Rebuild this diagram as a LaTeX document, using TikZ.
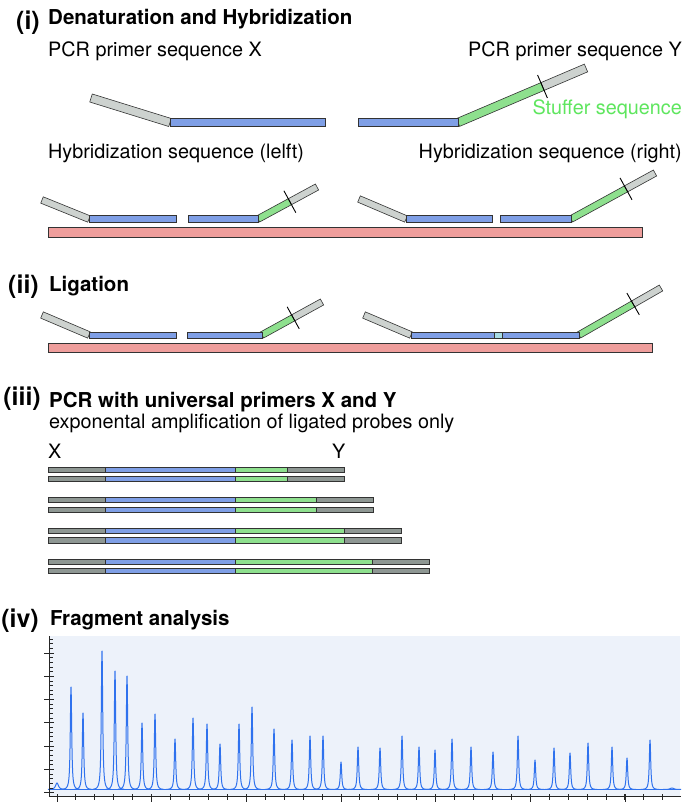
\documentclass[tikz,border=0pt]{standalone}
\usepackage{fontspec}
\setmainfont{TeX Gyre Heros}
\usetikzlibrary{calc}
\definecolor{greyF}{HTML}{CDD2CF}
\definecolor{greyD}{HTML}{8E9793}
\definecolor{blueF}{HTML}{7F9FE6}
\definecolor{greenF}{HTML}{8EE08E}
\definecolor{pinkF}{HTML}{EF9E9C}
\definecolor{cyanF}{HTML}{A8DDE6}
\definecolor{stufferG}{HTML}{5EE65E}
\definecolor{plotbg}{HTML}{EDF2FA}
\definecolor{traceB}{HTML}{2F72EE}
\definecolor{outl}{HTML}{333333}
\tikzset{
 seg/.style={draw=outl, line width=0.6pt},
 crossmark/.style={draw=black, line width=0.9pt},
 lbl/.style={anchor=base east, inner sep=0pt, font=\fontsize{25}{28}\selectfont\bfseries},
 ttl/.style={anchor=base west, inner sep=0pt, font=\fontsize{20.5}{24}\selectfont\bfseries},
 txt/.style={anchor=base west, inner sep=0pt, font=\fontsize{19.8}{23}\selectfont},
 txtr/.style={txt, anchor=base east},
 trace/.style={draw=traceB, line width=1pt, line join=round},
 axisline/.style={draw=black!85, line width=0.9pt},
}
\newcommand\armseg[4]{\filldraw[seg, fill=#4] ($#1!#3!90:#2$) -- ($#2!#3!-90:#1$) -- ($#2!#3!90:#1$) -- ($#1!#3!-90:#2$) -- cycle;}
\newcommand\hseg[5]{\filldraw[seg, fill=#5] (#1,{#3-#4}) rectangle (#2,{#3+#4});}
\newcommand\crossat[2]{\draw[crossmark] ($#1!12.5pt!90:#2$) -- ($#1!12.5pt!-90:#2$);}
\begin{document}
\begin{tikzpicture}[x=1pt,y=-1pt]
\useasboundingbox (0,0) rectangle (685,802);
\fill[white] (0,0) rectangle (685,802);

% ---------- texts
\node[lbl] (l1) at (40,30) {(i)};
\node[ttl] (t1) at (48,25) {Denaturation and Hybridization};
\node[txt] (px) at (48,57) {PCR primer sequence X};
\node[txtr] (py) at (682,57) {PCR primer sequence Y};
\node[txtr, text=stufferG] (st) at (682,115) {Stuffer sequence};
\node[txt] (hl) at (48,159) {Hybridization sequence (lelft)};
\node[txtr] (hr) at (682,159) {Hybridization sequence (right)};
\node[lbl] (l2) at (39,293) {(ii)};
\node[ttl] (t2) at (49,291) {Ligation};
\node[lbl] (l3) at (41,405) {(iii)};
\node[ttl] (t3) at (49,407) {PCR with universal primers X and Y};
\node[txt] (ex) at (49,428) {exponental amplification of ligated probes only};
\node[txt] (xl) at (48,458) {X};
\node[txt] (yl) at (332,458) {Y};
\node[lbl] (l4) at (39,627) {(iv)};
\node[ttl] (t4) at (50,625) {Fragment analysis};

% ---------- (i) free probes
\coordinate (a1) at (91,98); \coordinate (a1j) at (170,122.5);
\armseg{(a1)}{(a1j)}{4.2pt}{greyF}
\hseg{170}{325}{122.5}{4.2}{blueF}
\coordinate (b1j) at (458,122.5); \coordinate (b1e) at (586,68);
\coordinate (b1c) at ($(b1j)!0.66!(b1e)$);
\armseg{(b1c)}{(b1e)}{4.2pt}{greyF}
\armseg{(b1j)}{(b1c)}{4.2pt}{greenF}
\hseg{358}{458}{122.5}{4.2}{blueF}
\crossat{(b1c)}{(b1e)}

% ---------- (i) hybridized
\hseg{48}{642}{232}{5}{pinkF}
\coordinate (a2) at (42,200); \coordinate (a2j) at (89,219);
\armseg{(a2)}{(a2j)}{3.4pt}{greyF}
\hseg{89}{176}{219}{3.2}{blueF}
\coordinate (b2j) at (258,219); \coordinate (b2e) at (317,187);
\coordinate (b2c) at ($(b2j)!0.54!(b2e)$);
\armseg{(b2c)}{(b2e)}{3.4pt}{greyF}
\armseg{(b2j)}{(b2c)}{3.4pt}{greenF}
\hseg{188}{258}{219}{3.2}{blueF}
\crossat{(b2c)}{(b2e)}
\coordinate (a3) at (359,199); \coordinate (a3j) at (406,219);
\armseg{(a3)}{(a3j)}{3.4pt}{greyF}
\hseg{406}{492}{219}{3.2}{blueF}
\coordinate (b3j) at (571,219); \coordinate (b3e) at (655,173);
\coordinate (b3c) at ($(b3j)!0.655!(b3e)$);
\armseg{(b3c)}{(b3e)}{3.4pt}{greyF}
\armseg{(b3j)}{(b3c)}{3.4pt}{greenF}
\hseg{500}{571}{219}{3.2}{blueF}
\crossat{(b3c)}{(b3e)}

% ---------- (ii) ligation
\hseg{48}{652}{347.5}{4.6}{pinkF}
\coordinate (a4) at (42,315); \coordinate (a4j) at (89,335);
\armseg{(a4)}{(a4j)}{3.4pt}{greyF}
\hseg{89}{176}{335}{3.2}{blueF}
\coordinate (b4j) at (262,335); \coordinate (b4e) at (322,302);
\coordinate (b4c) at ($(b4j)!0.52!(b4e)$);
\armseg{(b4c)}{(b4e)}{3.4pt}{greyF}
\armseg{(b4j)}{(b4c)}{3.4pt}{greenF}
\hseg{187}{262}{335}{3.2}{blueF}
\crossat{(b4c)}{(b4e)}
\coordinate (a5) at (364,315); \coordinate (a5j) at (411,335);
\armseg{(a5)}{(a5j)}{3.4pt}{greyF}
\hseg{411}{494}{335}{3.2}{blueF}
\hseg{494}{502}{335}{3.2}{cyanF}
\coordinate (b5j) at (579,335); \coordinate (b5e) at (661,288);
\coordinate (b5c) at ($(b5j)!0.66!(b5e)$);
\armseg{(b5c)}{(b5e)}{3.4pt}{greyF}
\armseg{(b5j)}{(b5c)}{3.4pt}{greenF}
\hseg{502}{579}{335}{3.2}{blueF}
\crossat{(b5c)}{(b5e)}

% ---------- (iii) PCR products
\foreach \k/\g in {0/287,1/316,2/344,3/372}{
  \pgfmathsetmacro\ya{469.5+30.67*\k}
  \pgfmathsetmacro\yb{\ya+9.5}
  \pgfmathsetmacro\ge{\g+57}
  \foreach \yy in {\ya,\yb}{
    \hseg{48}{105}{\yy}{2.6}{greyD}
    \hseg{105}{235}{\yy}{2.6}{blueF}
    \hseg{235}{\g}{\yy}{2.6}{greenF}
    \hseg{\g}{\ge}{\yy}{2.6}{greyD}
  }
}

% ---------- (iv) fragment analysis
\fill[plotbg] (50,636) rectangle (680,796.5);
\draw[trace] (50,789.5) -- (680,789.5);
\foreach \px/\py/\w in {57/783/2.5,71/687/1.2,83/713/1.2,102/651/1.2,115/671/1.2,127/676/1.2,
  142/723/1.2,155/714/1.2,175/739/1.2,193/718/1.2,207/724/1.2,220/744/1.2,239/724/1.2,
  252/707/1.2,274/729/1.2,292/740/1.2,310/736/1.2,323/736/1.2,341/762/1.2,358/747/1.2,
  380/748/1.2,402/736/1.2,419/747/1.2,435/750/1.2,452/739/1.2,471/747/1.2,493/752/1.2,
  518/736/1.2,535/760/1.2,554/748/1.2,570/753/1.2,588/743/1.2,612/747/1.2,627/758/1.2,
  650/740/1.2,672/788/3}{
  \pgfmathsetmacro\da{\px-9}
  \pgfmathsetmacro\db{\px+9}
  \draw[trace] plot[domain=\da:\db, samples=73]
    (\x,{789.5-(789.5-\py)*(0.9/((1+(\x-\px)*(\x-\px)/(\w*\w))*(1+(\x-\px)*(\x-\px)/(\w*\w)))
      +0.1/((1+(\x-\px)*(\x-\px)/(9*\w*\w))*(1+(\x-\px)*(\x-\px)/(9*\w*\w))))});
}
\draw[axisline] (49.5,636) -- (49.5,796.5) -- (681,796.5);
\foreach \j in {0,...,33} \draw[axisline] (49.5,{792.8-4.66*\j}) -- (53,{792.8-4.66*\j});
\foreach \k in {0,...,6} \draw[axisline] (44,{792.8-23.3*\k}) -- (53.5,{792.8-23.3*\k});
\foreach \j in {0,...,32} \draw[axisline] ({57+18.93*\j},794) -- ({57+18.93*\j},799.5);
\foreach \k in {0,...,6} \draw[axisline] ({57+94.67*\k},794) -- ({57+94.67*\k},802);
\end{tikzpicture}
\end{document}
